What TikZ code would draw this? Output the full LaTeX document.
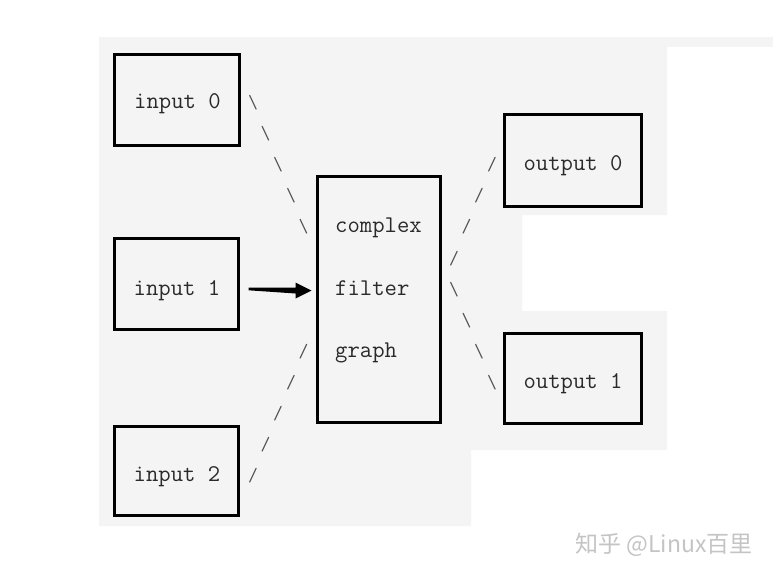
\documentclass[tikz,border=0pt]{standalone}
\usepackage{fontspec}
\newfontfamily\cjkfont{Noto Sans CJK SC}
\usetikzlibrary{calc}
\definecolor{bgray}{HTML}{F4F4F4}
\definecolor{txt}{HTML}{2A2A2A}
\definecolor{sl}{HTML}{505050}
\definecolor{wm}{HTML}{C4C4C4}
\begin{document}
\begin{tikzpicture}[x=1pt,y=-1pt,
  box/.style={draw=black,line width=3pt,fill=bgray,inner sep=0pt},
  lbl/.style={font=\ttfamily\fontsize{24}{24}\selectfont,text=txt,inner sep=0pt,anchor=base},
  flbl/.style={font=\ttfamily\fontsize{24}{24}\selectfont,text=txt,inner sep=0pt,anchor=base west},
  slash/.style={font=\ttfamily\fontsize{19}{19}\selectfont,text=sl,inner sep=0pt,anchor=base}]
\useasboundingbox (0,0) rectangle (773,575);
\fill[white] (0,0) rectangle (773,575);
\fill[bgray] (99,37) rectangle (773,47);
\fill[bgray] (99,47) -- (667,47) -- (667,215) -- (522,215) -- (522,311) -- (667,311)
  -- (667,450) -- (471,450) -- (471,526) -- (99,526) -- cycle;
% boxes
\node[box,minimum width=125,minimum height=91] (in0) at (177,100) {};
\node[box,minimum width=124,minimum height=91] (in1) at (176.5,284) {};
\node[box,minimum width=124,minimum height=89] (in2) at (176.5,471) {};
\node[box,minimum width=123,minimum height=246] (cfg) at (379,299.5) {};
\node[box,minimum width=137,minimum height=92] (out0) at (573,160.5) {};
\node[box,minimum width=137,minimum height=90] (out1) at (573,378.5) {};
% labels (text rows: baseline 108.5 + 31.1 k)
\node[lbl] (in0t) at (177.5,108.5) {input 0};
\node[lbl] (in1t) at (177,295.1) {input 1};
\node[lbl] (in2t) at (177,481.7) {input 2};
\node[lbl] (out0t) at (573,170.7) {output 0};
\node[lbl] (out1t) at (573,388.4) {output 1};
\node[flbl] (cfg1) at (335,232.9) {complex};
\node[flbl] (cfg2) at (335,295.1) {filter};
\node[flbl] (cfg3) at (335,357.3) {graph};
% ascii connectors
\foreach \px/\k [count=\i] in {253/0,265.5/1,278/2,291/3,303.5/4,454/6,466.5/7,479/8,492/9}
  \node[slash] (b\i) at (\px,108.5+31.1*\k) {\textbackslash};
\foreach \px/\k [count=\i] in {303.5/8,291/9,278/10,265.5/11,253/12,492/2,479/3,466.5/4,454/5}
  \node[slash] (f\i) at (\px,108.5+31.1*\k) {/};
% arrow
\coordinate (aS) at ($(in1.east)+(8.5,5)$);
\coordinate (aT) at ($(cfg.west)+(-4.5,-9)$);
\fill[black] ($(aS)+(0,-1.3)$) -- ($(aT)+(-16,-3)$) -- ($(aT)+(-16,-8)$) -- (aT)
  -- ($(aT)+(-16,8)$) -- ($(aT)+(-16,3)$) -- ($(aS)+(0,1.3)$) -- cycle;
% watermark
\node[font=\cjkfont\fontsize{23}{23}\selectfont,text=wm,inner sep=0pt] (wmk) at (664,545) {知乎 @Linux百里};
\end{tikzpicture}
\end{document}
